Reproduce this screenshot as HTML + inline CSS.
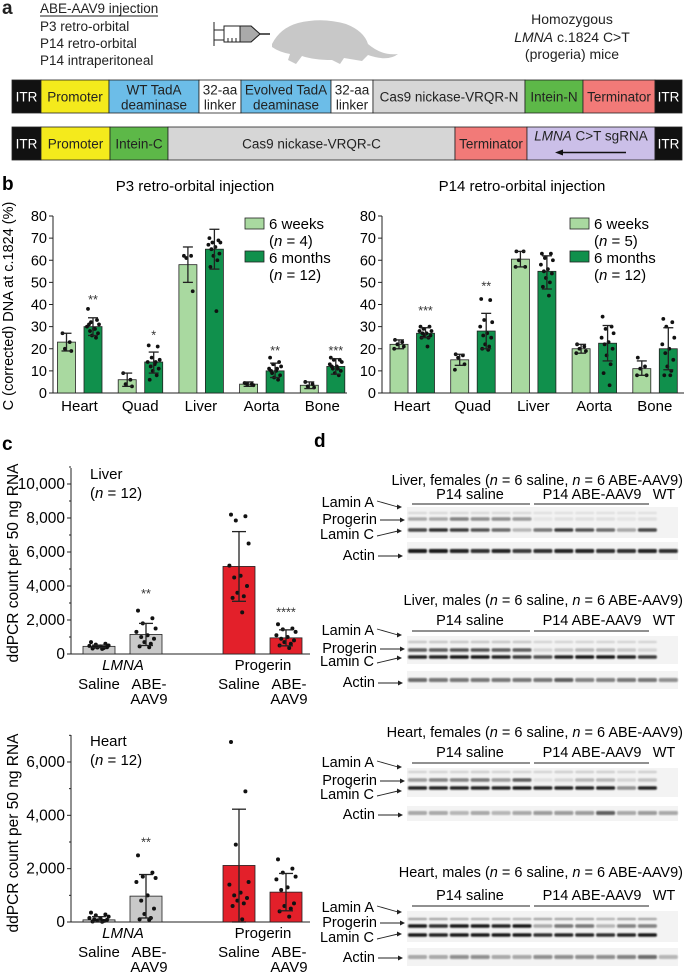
<!DOCTYPE html>
<html><head><meta charset="utf-8"><style>
html,body{margin:0;padding:0;background:#fff;}
svg{display:block;font-family:"Liberation Sans",Arial,sans-serif;}
</style></head><body>
<svg id="fig" width="685" height="975" viewBox="0 0 685 975" xmlns="http://www.w3.org/2000/svg">
<defs><filter id="blur" x="-20%" y="-200%" width="140%" height="500%"><feGaussianBlur stdDeviation="0.9"/></filter></defs>
<g font-size="13.5" fill="#222">
<text x="2" y="14" font-weight="bold" font-size="19">a</text>
<text x="40" y="13">ABE-AAV9 injection</text>
<line x1="40" y1="16" x2="158" y2="16" stroke="#222" stroke-width="1"/>
<text x="40" y="31">P3 retro-orbital</text>
<text x="40" y="48">P14 retro-orbital</text>
<text x="40" y="65">P14 intraperitoneal</text>
<g stroke="#222" stroke-width="1" fill="none">
<line x1="214" y1="22" x2="214" y2="46"/><line x1="214" y1="30" x2="224" y2="30"/><line x1="214" y1="40" x2="224" y2="40"/>
<path d="M224 26 H251 L260 34 L251 42 H224 Z" fill="#fff"/><path d="M240 26 H251 L260 34 L251 42 H240 Z" fill="#aaa"/>
<line x1="260" y1="34" x2="270" y2="34" stroke-width="1.5"/>
<line x1="228" y1="38" x2="228" y2="42"/><line x1="232" y1="38" x2="232" y2="42"/><line x1="236" y1="38" x2="236" y2="42"/>
</g>
<path fill="#c8c8c8" d="M272 44 Q280 28 298 23 Q322 17 346 24 Q364 31 368 44 Q382 56 398 54 Q388 62 368 55 L362 61 L344 58 L340 64 L332 60 Q314 60 302 56 L296 64 L288 60 L290 54 Q279 52 272 47 Z"/>
<text x="572" y="24" text-anchor="middle" font-size="14">Homozygous</text>
<text x="572" y="42" text-anchor="middle" font-size="14"><tspan font-style="italic">LMNA</tspan> c.1824 C&gt;T</text>
<text x="572" y="59" text-anchor="middle" font-size="14">(progeria) mice</text>
</g>
<g id="constructs" font-size="13.5"></g>
<g id="panelb"></g>
<g id="panelc"></g>
<g id="paneld"></g>
</svg>
<script>
const NS='http://www.w3.org/2000/svg';
function E(parent,tag,attrs,txt){const e=document.createElementNS(NS,tag);for(const k in attrs)e.setAttribute(k,attrs[k]);if(txt!==undefined)e.textContent=txt;parent.appendChild(e);return e;}

// ---------- Panel a constructs ----------
const c1Labels=[['ITR'],['Promoter'],['WT TadA','deaminase'],['32-aa','linker'],['Evolved TadA','deaminase'],['32-aa','linker'],['Cas9 nickase-VRQR-N'],['Intein-N'],['Terminator'],['ITR']];
const c1Edges=[12,41,109,199,241,331,373,525,583,655,682];
const c1Cols=['#111','#f4ea1c','#6cbde8','#fff','#6cbde8','#fff','#d6d6d6','#5db848','#f27a78','#111'];
const c2Labels=[['ITR'],['Promoter'],['Intein-C'],['Cas9 nickase-VRQR-C'],['Terminator'],['LMNA C>T sgRNA'],['ITR']];
const c2Edges=[12,41,110,168,455,527,655,682];
const c2Cols=['#111','#f4ea1c','#5db848','#d6d6d6','#f27a78','#cbbfe8','#111'];
const cg=document.getElementById('constructs');
function construct(labels,edges,cols,y0,y1,nm){
  const g=E(cg,'g',{});
  
  
  labels.forEach((lb,i)=>{
    const r=E(g,'rect',{x:edges[i],y:y0,width:edges[i+1]-edges[i],height:y1-y0,fill:cols[i],stroke:'#222','stroke-width':0.8});
    
    
    const cx=(edges[i]+edges[i+1])/2, cy=(y0+y1)/2, fc=cols[i]==='#111'?'#fff':'#222';
    if(lb.length===2){E(g,'text',{x:cx,y:cy-2,'text-anchor':'middle',fill:fc},lb[0]);E(g,'text',{x:cx,y:cy+13,'text-anchor':'middle',fill:fc},lb[1]);}
    else if(lb[0]==='LMNA C>T sgRNA'){const t=E(g,'text',{x:cx,y:cy-3,'text-anchor':'middle',fill:fc});E(t,'tspan',{'font-style':'italic'},'LMNA');E(t,'tspan',{},' C>T sgRNA');
      E(g,'line',{x1:cx+35,y1:cy+9,x2:cx-28,y2:cy+9,stroke:'#111','stroke-width':1.5});E(g,'path',{d:'M'+(cx-36)+' '+(cy+9)+' l8 -3 v6 z',fill:'#111'});}
    else E(g,'text',{x:cx,y:cy+5,'text-anchor':'middle',fill:fc},lb[0]);
  });
}
construct(c1Labels,c1Edges,c1Cols,80,113,'construct-n-terminal');
construct(c2Labels,c2Edges,c2Cols,127,160,'construct-c-terminal');

// ---------- Panel b data ----------
const bCats=['Heart','Quad','Liver','Aorta','Bone'];
const bTicks=[0,10,20,30,40,50,60,70,80];
const p3Weeks=[23,6,58,4,3.5], p3WeeksLo=[19,3,50,3,2], p3WeeksHi=[27,9,66,5,5];
const p3Months=[30,14,65,10,12], p3MonthsLo=[26,9,56,7,8.5], p3MonthsHi=[34,18.5,74,13.5,15.5];
const p3WeeksPts=[[27,23,20,19],[9,6,4,3],[62,62,61,46],[4.5,4,4,3.5],[5,4,3,2.5]];
const p3MonthsPts=[[38,33,32,31,30,29,28,27,26,25,31,29],[21.5,21,16,15,14,13,12,11,10,8,6,14],[70,69,68,68,67,66,65,63,62,60,57,37],[16,14,13,12,11,10,9,8,7,6,10,11],[16,15,15,14,13,12,11,10,9,8,12,11]];
const p3Sig=['**','*','','**','***'], p3SigVal=[43,27,0,20,20];
const p14Weeks=[22,15,60.5,20,11], p14WeeksLo=[20,12.5,57,18,8], p14WeeksHi=[24,17.5,64,22,14.5];
const p14Months=[27,28,55,22.5,20], p14MonthsLo=[25,20,47,14.5,10.5], p14MonthsHi=[29.5,36,62,30.5,29.5];
const p14WeeksPts=[[24,23,22,21,20],[17.5,17,16,13,10.5],[64,64,60,57,57],[22,21,20,19,18],[16,12,11,8,8]];
const p14MonthsPts=[[30,30,29,28,28,27,27,26,26,25,25,21],[42.5,42,33,32,30,27,26,25,22,21,20,19.5],[63,63,61,60,58,56,55,54,52,50,48,44],[34.5,30,29,27,25,23,22,20,17,13,9,3.5],[33.5,32,30,25,22,20,18,15,12,10,8,8]];
const p14Sig=['***','**','','',''], p14SigVal=[38,49,0,0,0];

// ---------- Panel c data ----------
const cCats=['Saline','ABE-AAV9','Saline','ABE-AAV9'];
const liverTicks=[0,2000,4000,6000,8000,10000];
const liverMeans=[450,1150,5150,950], liverLo=[380,500,3100,480], liverHi=[520,1800,7200,1420];
const liverPts=[[700,600,550,500,480,450,420,400,380,350,320,300],[2550,2100,1800,1500,1300,1100,1000,900,700,600,450,400],[8200,8100,7850,6500,5200,4600,4500,4000,3600,3400,3300,2450],[1750,1500,1450,1300,1100,1000,900,800,700,600,500,350]];
const liverSig=['','**','','****'], liverSigVal=[0,3650,0,2550];
const heartTicks=[0,2000,4000,6000];
const heartMeans=[80,970,2120,1120], heartLo=[0,150,0,420], heartHi=[200,1780,4230,1820];
const heartPts=[[350,280,250,200,150,120,100,80,60,40,20,10],[2500,1850,1700,1650,1500,1000,800,500,300,150,100,80],[6750,4900,2900,1500,1400,1100,1000,900,800,700,600,100],[2350,2000,1850,1700,1600,1300,1200,700,600,500,400,200]];
const heartSig=['','**','',''], heartSigVal=[0,3050,0,0];

// ---------- Panel d data (band intensities per lane) ----------
const blotTitles=['Liver, females','Liver, males','Heart, females','Heart, males'];
const lamA=[[.1,.1,.1,.1,.1,.1,.08,.08,.08,.08,.08,.08,0],[.18,.18,.18,.18,.18,.18,.12,.12,.12,.12,.12,.12,0],[.12,.12,.12,.15,.12,.12,.12,.15,.15,.15,.12,.15,0],[.3,.3,.25,.25,.25,.25,.3,.3,.3,.25,.3,.3,0]];
const prog=[[.3,.3,.5,.45,.45,.4,.06,.08,.08,.08,.06,.08,0],[.65,.65,.7,.7,.65,.65,.12,.18,.25,.25,.18,.12,0],[.4,.5,.5,.55,.4,.65,.08,.12,.25,.25,.12,.2,0],[.95,.85,.95,.95,.9,.95,.3,.55,.55,.25,.5,.5,0]];
const lamC=[[.75,.85,.8,.7,.6,.25,.55,.8,.7,.6,.35,.75,0],[.9,.9,.95,.95,.9,.8,.7,.9,.95,.95,.9,.8,0],[.9,.9,.9,.9,.9,.95,.9,.9,.9,.9,.45,.9,0],[.95,.9,.95,.95,.95,.95,.85,.9,.9,.85,.9,.95,0]];
const actin=[[.95,.95,.9,.85,.9,.8,.85,.9,.9,.85,.85,.9,.85],[.6,.55,.55,.55,.55,.55,.55,.65,.5,.5,.55,.55,.45],[.3,.3,.25,.3,.25,.35,.4,.4,.4,.65,.35,.4,.35],[.3,.3,.45,.45,.3,.35,.45,.45,.45,.45,.5,.6,.25]];

const jit=[-5,4,-2,6,-6,1,-3,5,-1,3,-4,2];
function nm(el,name){return el;}

// ---------- Panel b draw ----------
const LG='#a9d9a0', DG='#10904c';
const pb=document.getElementById('panelb');
nm(E(pb,'text',{x:2,y:190,'font-weight':'bold','font-size':19},'b'),'panel-b-label');
nm(E(pb,'text',{x:13,y:306,transform:'rotate(-90 13 306)','text-anchor':'middle','font-size':14.5},'C (corrected) DNA at c.1824 (%)'),'y-axis-title');

function barChart(o){
  const g=E(pb,'g',{});
  
  
  const Y=v=>o.y0-(v/80)*(o.y0-o.y80);
  const X=i=>o.first+i*60.7;
  nm(E(g,'text',{x:o.titleX,y:191,'text-anchor':'middle','font-size':15},o.title),'chart-title');
  E(g,'line',{x1:o.ax,y1:Y(80),x2:o.ax,y2:o.y0,stroke:'#222','stroke-width':1});
  E(g,'line',{x1:o.ax,y1:o.y0,x2:o.axEnd,y2:o.y0,stroke:'#222','stroke-width':1});
  bTicks.forEach(t=>{E(g,'line',{x1:o.ax-4,y1:Y(t),x2:o.ax,y2:Y(t),stroke:'#222'});
    const tl=E(g,'text',{x:o.ax-6,y:Y(t)+5,'text-anchor':'end','font-size':14.5},t);
    
    });
  bCats.forEach((c,i)=>{
    const cx=X(i);
    const cl=E(g,'text',{x:cx+13,y:o.y0+18,'text-anchor':'middle','font-size':15},c);
    
    
    [[o.w,o.wLo,o.wHi,o.wPts,LG,0],[o.m,o.mLo,o.mHi,o.mPts,DG,26.5]].forEach(function(s,k){
      const v=s[0],lo=s[1],hi=s[2],pts=s[3],col=s[4],off=s[5];
      const bx=cx+off-9;
      const r=E(g,'rect',{x:bx,y:Y(v[i]),width:18,height:o.y0-Y(v[i]),fill:col,stroke:'#222','stroke-width':0.8});
      
      
      const mx=bx+9;
      pts[i].forEach((p,j)=>{const d=E(g,'circle',{cx:mx+jit[j%12]*(pts[i].length>5?1:0.8),cy:Y(p),r:1.9,fill:'#111'});
        
        });
      E(g,'line',{x1:mx,y1:Y(hi[i]),x2:mx,y2:Y(lo[i]),stroke:'#222','stroke-width':1.3});
      E(g,'line',{x1:mx-5,y1:Y(hi[i]),x2:mx+5,y2:Y(hi[i]),stroke:'#222','stroke-width':1.3});
      E(g,'line',{x1:mx-5,y1:Y(lo[i]),x2:mx+5,y2:Y(lo[i]),stroke:'#222','stroke-width':1.3});
    });
    if(o.sig[i]){const s=E(g,'text',{x:cx+26.5,y:Y(o.sigV[i])+6,'text-anchor':'middle','font-size':12.5,fill:'#333'},o.sig[i]);
      
      }
  });
  const lx=o.legX;
  const s1=E(g,'rect',{x:lx,y:218,width:19,height:11,fill:LG,stroke:'#222','stroke-width':0.8});
  
  
  const s2=E(g,'rect',{x:lx,y:251,width:19,height:11,fill:DG,stroke:'#222','stroke-width':0.8});
  
  
  nm(E(g,'text',{x:lx+24,y:229,'font-size':15},'6 weeks'),'legend-label');
  const n1=nm(E(g,'text',{x:lx+24,y:246,'font-size':15},'('),'legend-n');
  E(n1,'tspan',{'font-style':'italic'},'n');E(n1,'tspan',{},' = '+o.nW+')');
  nm(E(g,'text',{x:lx+24,y:263,'font-size':15},'6 months'),'legend-label');
  const n2=nm(E(g,'text',{x:lx+24,y:280,'font-size':15},'('),'legend-n');
  E(n2,'tspan',{'font-style':'italic'},'n');E(n2,'tspan',{},' = 12)');
}
barChart({name:'chart-p3',title:'P3 retro-orbital injection',titleX:195,ax:53,axEnd:347,y0:393,y80:216,first:66.5,
  w:p3Weeks,wLo:p3WeeksLo,wHi:p3WeeksHi,wPts:p3WeeksPts,m:p3Months,mLo:p3MonthsLo,mHi:p3MonthsHi,mPts:p3MonthsPts,sig:p3Sig,sigV:p3SigVal,legX:245,nW:4});
barChart({name:'chart-p14',title:'P14 retro-orbital injection',titleX:522,ax:382,axEnd:684,y0:393,y80:216,first:399,
  w:p14Weeks,wLo:p14WeeksLo,wHi:p14WeeksHi,wPts:p14WeeksPts,m:p14Months,mLo:p14MonthsLo,mHi:p14MonthsHi,mPts:p14MonthsPts,sig:p14Sig,sigV:p14SigVal,legX:570,nW:5});

// ---------- Panel c draw ----------
const pc=document.getElementById('panelc');
nm(E(pc,'text',{x:2,y:450,'font-weight':'bold','font-size':19},'c'),'panel-c-label');
const cBarX=[99,146,239,286];
const cCols=['#c9c9c9','#c9c9c9','#e3202a','#e3202a'];
function ddChart(o){
  const g=E(pc,'g',{});
  
  
  const Y=v=>o.y0-v*o.k;
  const ax=71;
  E(g,'line',{x1:ax,y1:o.top,x2:ax,y2:o.y0,stroke:'#222'});
  E(g,'line',{x1:ax,y1:o.y0,x2:310,y2:o.y0,stroke:'#222'});
  o.ticks.forEach(t=>{E(g,'line',{x1:ax-4,y1:Y(t),x2:ax,y2:Y(t),stroke:'#222'});
    const tl=E(g,'text',{x:ax-6,y:Y(t)+5,'text-anchor':'end','font-size':15.5},t.toLocaleString('en-US'));
    
    
    if(t+1000<=o.max)E(g,'line',{x1:ax-2,y1:Y(t+1000),x2:ax,y2:Y(t+1000),stroke:'#222'});});
  nm(E(g,'text',{x:18,y:o.titleY,transform:'rotate(-90 18 '+o.titleY+')','text-anchor':'middle','font-size':15.5},'ddPCR count per 50 ng RNA'),'y-axis-title');
  nm(E(g,'text',{x:90,y:o.top+11,'font-size':15},o.tissue),'tissue-label');
  const nl=nm(E(g,'text',{x:90,y:o.top+30,'font-size':15},'('),'n-label');
  E(nl,'tspan',{'font-style':'italic'},'n');E(nl,'tspan',{},' = 12)');
  o.means.forEach((v,i)=>{
    const cx=cBarX[i];
    const r=E(g,'rect',{x:cx-16,y:Y(v),width:32,height:Math.max(o.y0-Y(v),0.5),fill:cCols[i],stroke:'#222','stroke-width':0.8});
    
    
    o.pts[i].forEach((p,j)=>{const d=E(g,'circle',{cx:cx+jit[j]*1.6,cy:Y(p),r:2,fill:'#111'});
      
      });
    E(g,'line',{x1:cx,y1:Y(o.hi[i]),x2:cx,y2:Y(o.lo[i]),stroke:'#222','stroke-width':1.3});
    E(g,'line',{x1:cx-7,y1:Y(o.hi[i]),x2:cx+7,y2:Y(o.hi[i]),stroke:'#222','stroke-width':1.3});
    E(g,'line',{x1:cx-7,y1:Y(o.lo[i]),x2:cx+7,y2:Y(o.lo[i]),stroke:'#222','stroke-width':1.3});
    if(o.sig[i]){const s=E(g,'text',{x:cx,y:Y(o.sigV[i])+6,'text-anchor':'middle','font-size':12.5,fill:'#333'},o.sig[i]);
      
      }
    if(i%2===0){nm(E(g,'text',{x:cx,y:o.y0+35,'text-anchor':'middle','font-size':15},cCats[i]),'x-label');}
    else{nm(E(g,'text',{x:cx+3,y:o.y0+35,'text-anchor':'middle','font-size':15},'ABE-'),'x-label');
         nm(E(g,'text',{x:cx+3,y:o.y0+50,'text-anchor':'middle','font-size':15},'AAV9'),'x-label');}
  });
  nm(E(g,'text',{x:123,y:o.y0+16,'text-anchor':'middle','font-size':15,'font-style':'italic'},'LMNA'),'group-label-lmna');
  nm(E(g,'text',{x:263,y:o.y0+16,'text-anchor':'middle','font-size':15},'Progerin'),'group-label-progerin');
}
ddChart({name:'chart-liver-ddpcr',tissue:'Liver',y0:654,k:0.017,top:468,max:11000,ticks:liverTicks,means:liverMeans,lo:liverLo,hi:liverHi,pts:liverPts,sig:liverSig,sigV:liverSigVal,titleY:563});
ddChart({name:'chart-heart-ddpcr',tissue:'Heart',y0:922,k:0.02667,top:735,max:7000,ticks:heartTicks,means:heartMeans,lo:heartLo,hi:heartHi,pts:heartPts,sig:heartSig,sigV:heartSigVal,titleY:833});

// ---------- Panel d draw ----------
const pd=document.getElementById('paneld');
nm(E(pd,'text',{x:314,y:447,'font-weight':'bold','font-size':19},'d'),'panel-d-label');
const blots=[
 {t:485,g:499,ul:504,up:[507,538],ac:[542,560],bA:513,bP:519,bC:530,bAc:551,lA:502,lP:519,lC:534,lAc:555},
 {t:605,g:625,ul:631,up:[636,664],ac:[671,689],bA:642,bP:650,bC:657,bAc:680,lA:630,lP:648,lC:661,lAc:682},
 {t:737,g:757,ul:763,up:[768,797],ac:[806,821],bA:772,bP:780,bC:788,bAc:813,lA:762,lP:780,lC:794,lAc:814},
 {t:877,g:900,ul:906,up:[911,942],ac:[948,966],bA:919,bP:926,bC:935,bAc:957,lA:907,lP:922,lC:937,lAc:957}];
blots.forEach((b,bi)=>{
  const g=E(pd,'g',{'font-size':14.5});
  
  
  const tt=nm(E(g,'text',{x:683,y:b.t,'text-anchor':'end'},blotTitles[bi]+' ('),'blot-title');
  E(tt,'tspan',{'font-style':'italic'},'n');E(tt,'tspan',{},' = 6 saline, ');E(tt,'tspan',{'font-style':'italic'},'n');E(tt,'tspan',{},' = 6 ABE-AAV9)');
  nm(E(g,'text',{x:470,y:b.g,'text-anchor':'middle'},'P14 saline'),'group-label-saline');
  nm(E(g,'text',{x:592,y:b.g,'text-anchor':'middle'},'P14 ABE-AAV9'),'group-label-abe');
  nm(E(g,'text',{x:664,y:b.g,'text-anchor':'middle'},'WT'),'group-label-wt');
  E(g,'line',{x1:412,y1:b.ul,x2:530,y2:b.ul,stroke:'#222'});
  E(g,'line',{x1:534,y1:b.ul,x2:649,y2:b.ul,stroke:'#222'});
  E(g,'rect',{x:407,y:b.up[0],width:271,height:b.up[1]-b.up[0],fill:'#f3f3f3'});
  E(g,'rect',{x:407,y:b.ac[0],width:271,height:b.ac[1]-b.ac[0],fill:'#f3f3f3'});
  [['Lamin A',b.lA,b.bA],['Progerin',b.lP,b.bP],['Lamin C',b.lC,b.bC],['Actin',b.lAc,b.bAc]].forEach(function(L){
    const x=L[0]==='Actin'?383:L[0]==='Progerin'?385:382;
    nm(E(g,'text',{x:x-8,y:L[1]+5,'text-anchor':'end'},L[0]),'band-label');
    let ty=L[0]==='Lamin A'?L[1]+5:L[0]==='Lamin C'?L[1]-3:L[1]+1;
    E(g,'line',{x1:x-5,y1:L[1]+(L[0]==='Lamin A'?-1:L[0]==='Lamin C'?2:1),x2:x+16,y2:ty,stroke:'#222','stroke-width':0.9});
    E(g,'path',{d:'M'+(x+20)+' '+ty+' l-5 -2.5 v5 z',fill:'#222'});
  });
  [[lamA,b.bA,2.5],[prog,b.bP,3.5],[lamC,b.bC,3.5],[actin,b.bAc,4]].forEach(function(s){
    s[0][bi].forEach((v,i)=>{
      if(v<=0)return;
      const r=E(g,'rect',{x:408+i*20.9,y:s[1]-s[2]/2,width:19,height:s[2],rx:1.5,fill:'#111','fill-opacity':v,filter:'url(#blur)'});
      
      
    });
  });
});
</script>
</body></html>
